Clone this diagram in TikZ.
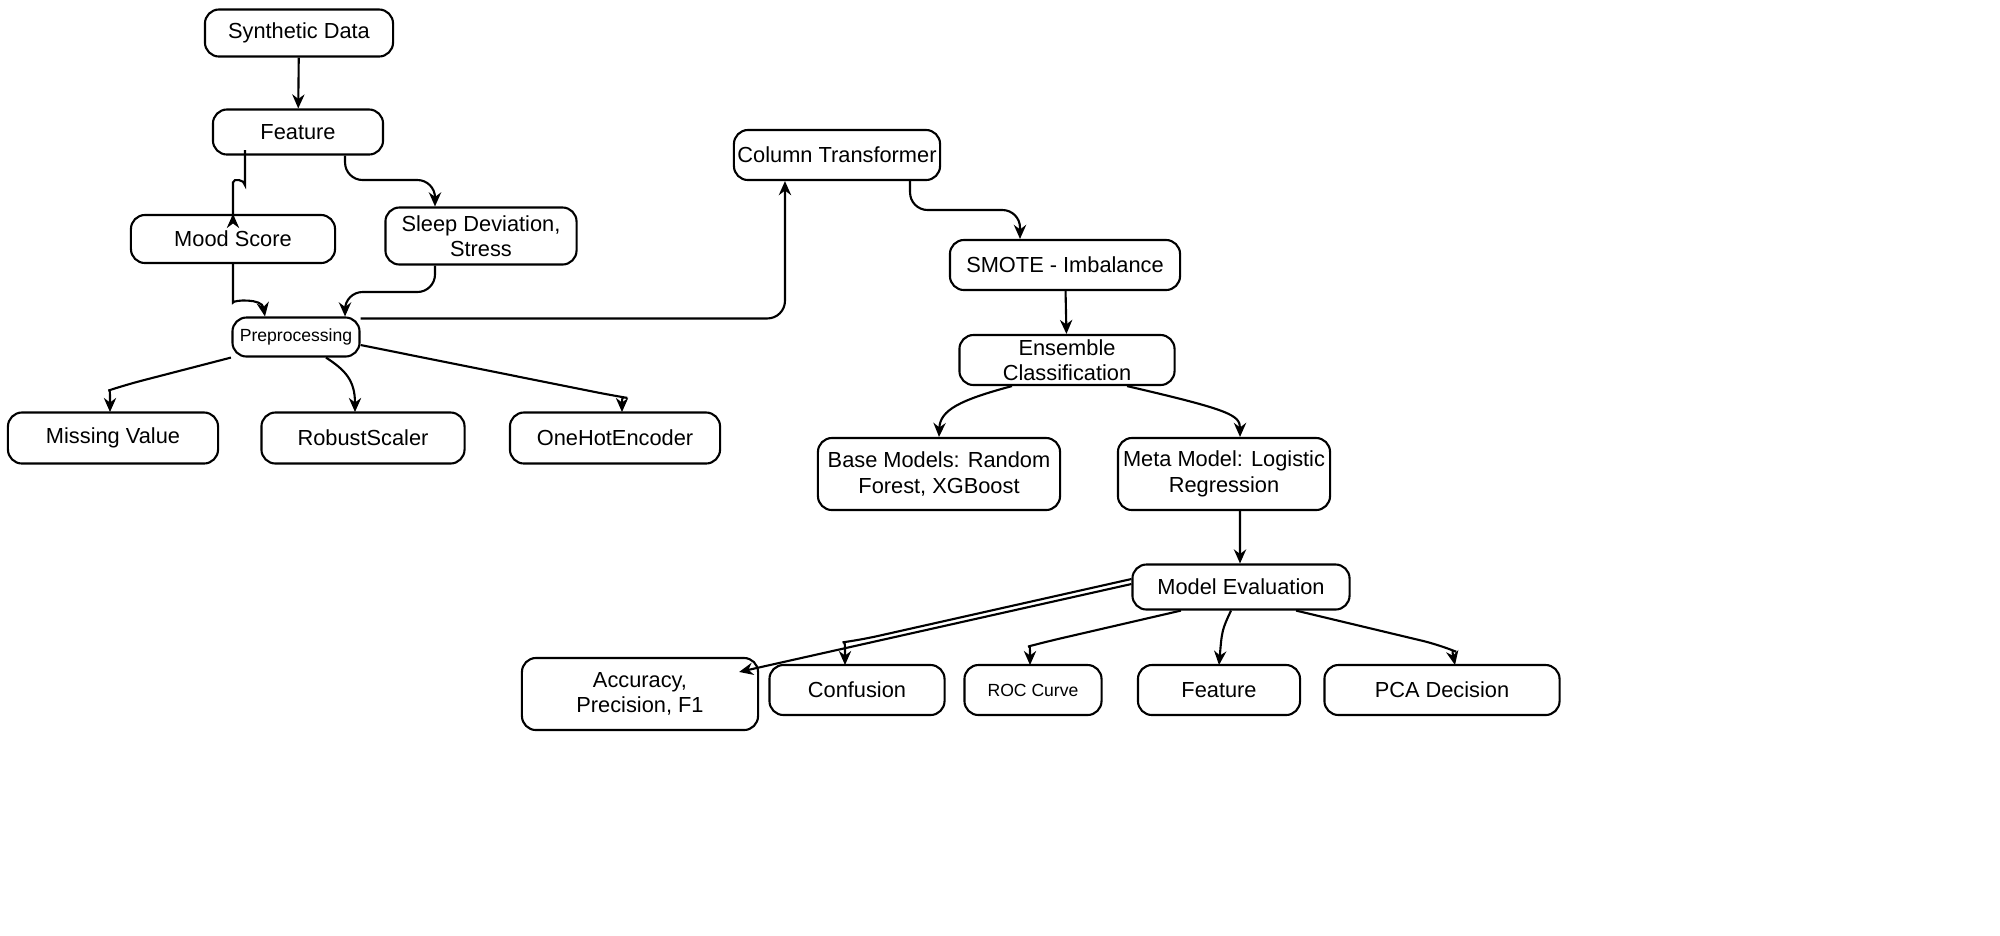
\documentclass[tikz,border=0pt]{standalone}
\usepackage{fontspec}
\setmainfont{Liberation Sans}
\usetikzlibrary{arrows.meta}
\begin{document}
\begin{tikzpicture}[x=0.01cm,y=-0.01cm,
	box/.style={draw, line width=0.6pt, rounded corners=4pt, align=center,
		font=\fontsize{6.2}{7.2}\selectfont, inner sep=1pt},
	flow/.style={-{Stealth[length=4pt,width=3.5pt]}, line width=0.6pt, rounded corners=5pt}]
	\useasboundingbox (0,0) rectangle (2000,935);

	% Left branch
	\node[box, minimum width=1.88cm, minimum height=0.47cm] (synth) at (299,33) {Synthetic Data};
	\node[box, minimum width=1.70cm, minimum height=0.45cm] (feat) at (298,132) {Feature};
	\node[box, minimum width=2.04cm, minimum height=0.48cm] (mood) at (233,239) {Mood Score};
	\node[box, minimum width=1.91cm, minimum height=0.57cm] (sleep) at (481,236) {Sleep Deviation,\\Stress};
	\node[box, minimum width=1.27cm, minimum height=0.39cm, font=\fontsize{5}{6}\selectfont] (prep) at (296,337) {Preprocessing};
	\node[box, minimum width=2.10cm, minimum height=0.51cm] (miss) at (113,438) {Missing Value};
	\node[box, minimum width=2.03cm, minimum height=0.51cm] (robust) at (363,438) {RobustScaler};
	\node[box, minimum width=2.10cm, minimum height=0.51cm] (onehot) at (615,438) {OneHotEncoder};

	% Right branch
	\node[box, minimum width=1.65cm, minimum height=0.50cm] (coltf) at (837,155) {Column Transformer};
	\node[box, minimum width=2.30cm, minimum height=0.50cm] (smote) at (1065,265) {SMOTE - Imbalance};
	\node[box, minimum width=2.15cm, minimum height=0.50cm] (ens) at (1067,360) {Ensemble\\Classification};
	\node[box, minimum width=2.42cm, minimum height=0.72cm] (base) at (939,474) {Base Models: Random\\Forest, XGBoost};
	\node[box, minimum width=2.12cm, minimum height=0.72cm] (meta) at (1224,474) {Meta Model: Logistic\\Regression};
	\node[box, minimum width=2.17cm, minimum height=0.45cm] (eval) at (1241,587) {Model Evaluation};

	% Evaluation outputs
	\node[box, minimum width=2.36cm, minimum height=0.72cm] (acc) at (640,694) {Accuracy,\\Precision, F1};
	\node[box, minimum width=1.75cm, minimum height=0.50cm] (conf) at (857,690) {Confusion};
	\node[box, minimum width=1.37cm, minimum height=0.50cm, font=\fontsize{5}{6}\selectfont] (roc) at (1033,690) {ROC Curve};
	\node[box, minimum width=1.62cm, minimum height=0.50cm] (featimp) at (1219,690) {Feature};
	\node[box, minimum width=2.35cm, minimum height=0.50cm] (pca) at (1442,690) {PCA Decision};

	% Connectors
	\draw[flow] (synth) -- (feat);
	\draw[flow] ([xshift=-0.53cm]feat.south) -- ++(0,12) .. controls +(0,12) and (233,178) .. (233,200) -- (mood.north);
	\draw[flow] ([xshift=0.47cm]feat.south) |- (435,180) -- (sleep.north -| 435,0);
	\draw[flow] (mood.south) -- (233,285) .. controls (233,300) and (262,298) .. ([xshift=-0.31cm]prep.north);
	\draw[flow] (sleep.south -| 435,0) |- (345,292) -- ([xshift=0.49cm]prep.north);
	\draw[flow] (prep.north east) ++(0,-0.02cm) coordinate (p1) (p1) -| ([xshift=-0.52cm]coltf.south);
	\draw[flow] ([xshift=0.73cm]coltf.south) |- (1020,210) -- (smote.north -| 1020,0);
	\draw[flow] (smote) -- (ens);
	\draw[flow] ([xshift=-0.55cm]ens.south) .. controls (960,400) and (940,410) .. (base.north);
	\draw[flow] ([xshift=0.6cm]ens.south) .. controls (1230,410) and (1240,415) .. ([xshift=0.16cm]meta.north);
	\draw[flow] ([xshift=0.16cm]meta.south) -- ([xshift=-0.01cm]eval.north);
	\draw[flow] ([xshift=-0.65cm]prep.south) -- (125,385) .. controls (110,390) .. (110,412);
	\draw[flow] ([xshift=0.3cm]prep.south) .. controls (345,370) and (355,380) .. (355,412);
	\draw[flow] ([yshift=-0.08cm]prep.east) -- (610,395) .. controls (622,397) .. (622,412);
	\draw[flow] ([yshift=0.03cm]eval.west) -- ([xshift=-0.2cm,yshift=-0.15cm]acc.north east);
	\draw[flow] ([yshift=0.08cm]eval.west) -- (860,640) .. controls (845,642) .. (845,665);
	\draw[flow] ([xshift=-0.6cm]eval.south) -- (1045,642) .. controls (1030,646) .. (1030,665);
	\draw[flow] ([xshift=-0.1cm]eval.south) .. controls (1222,630) .. (1219,665);
	\draw[flow] ([xshift=0.55cm]eval.south) -- (1440,645) .. controls (1452,650) .. (1455,665);
\end{tikzpicture}
\end{document}
